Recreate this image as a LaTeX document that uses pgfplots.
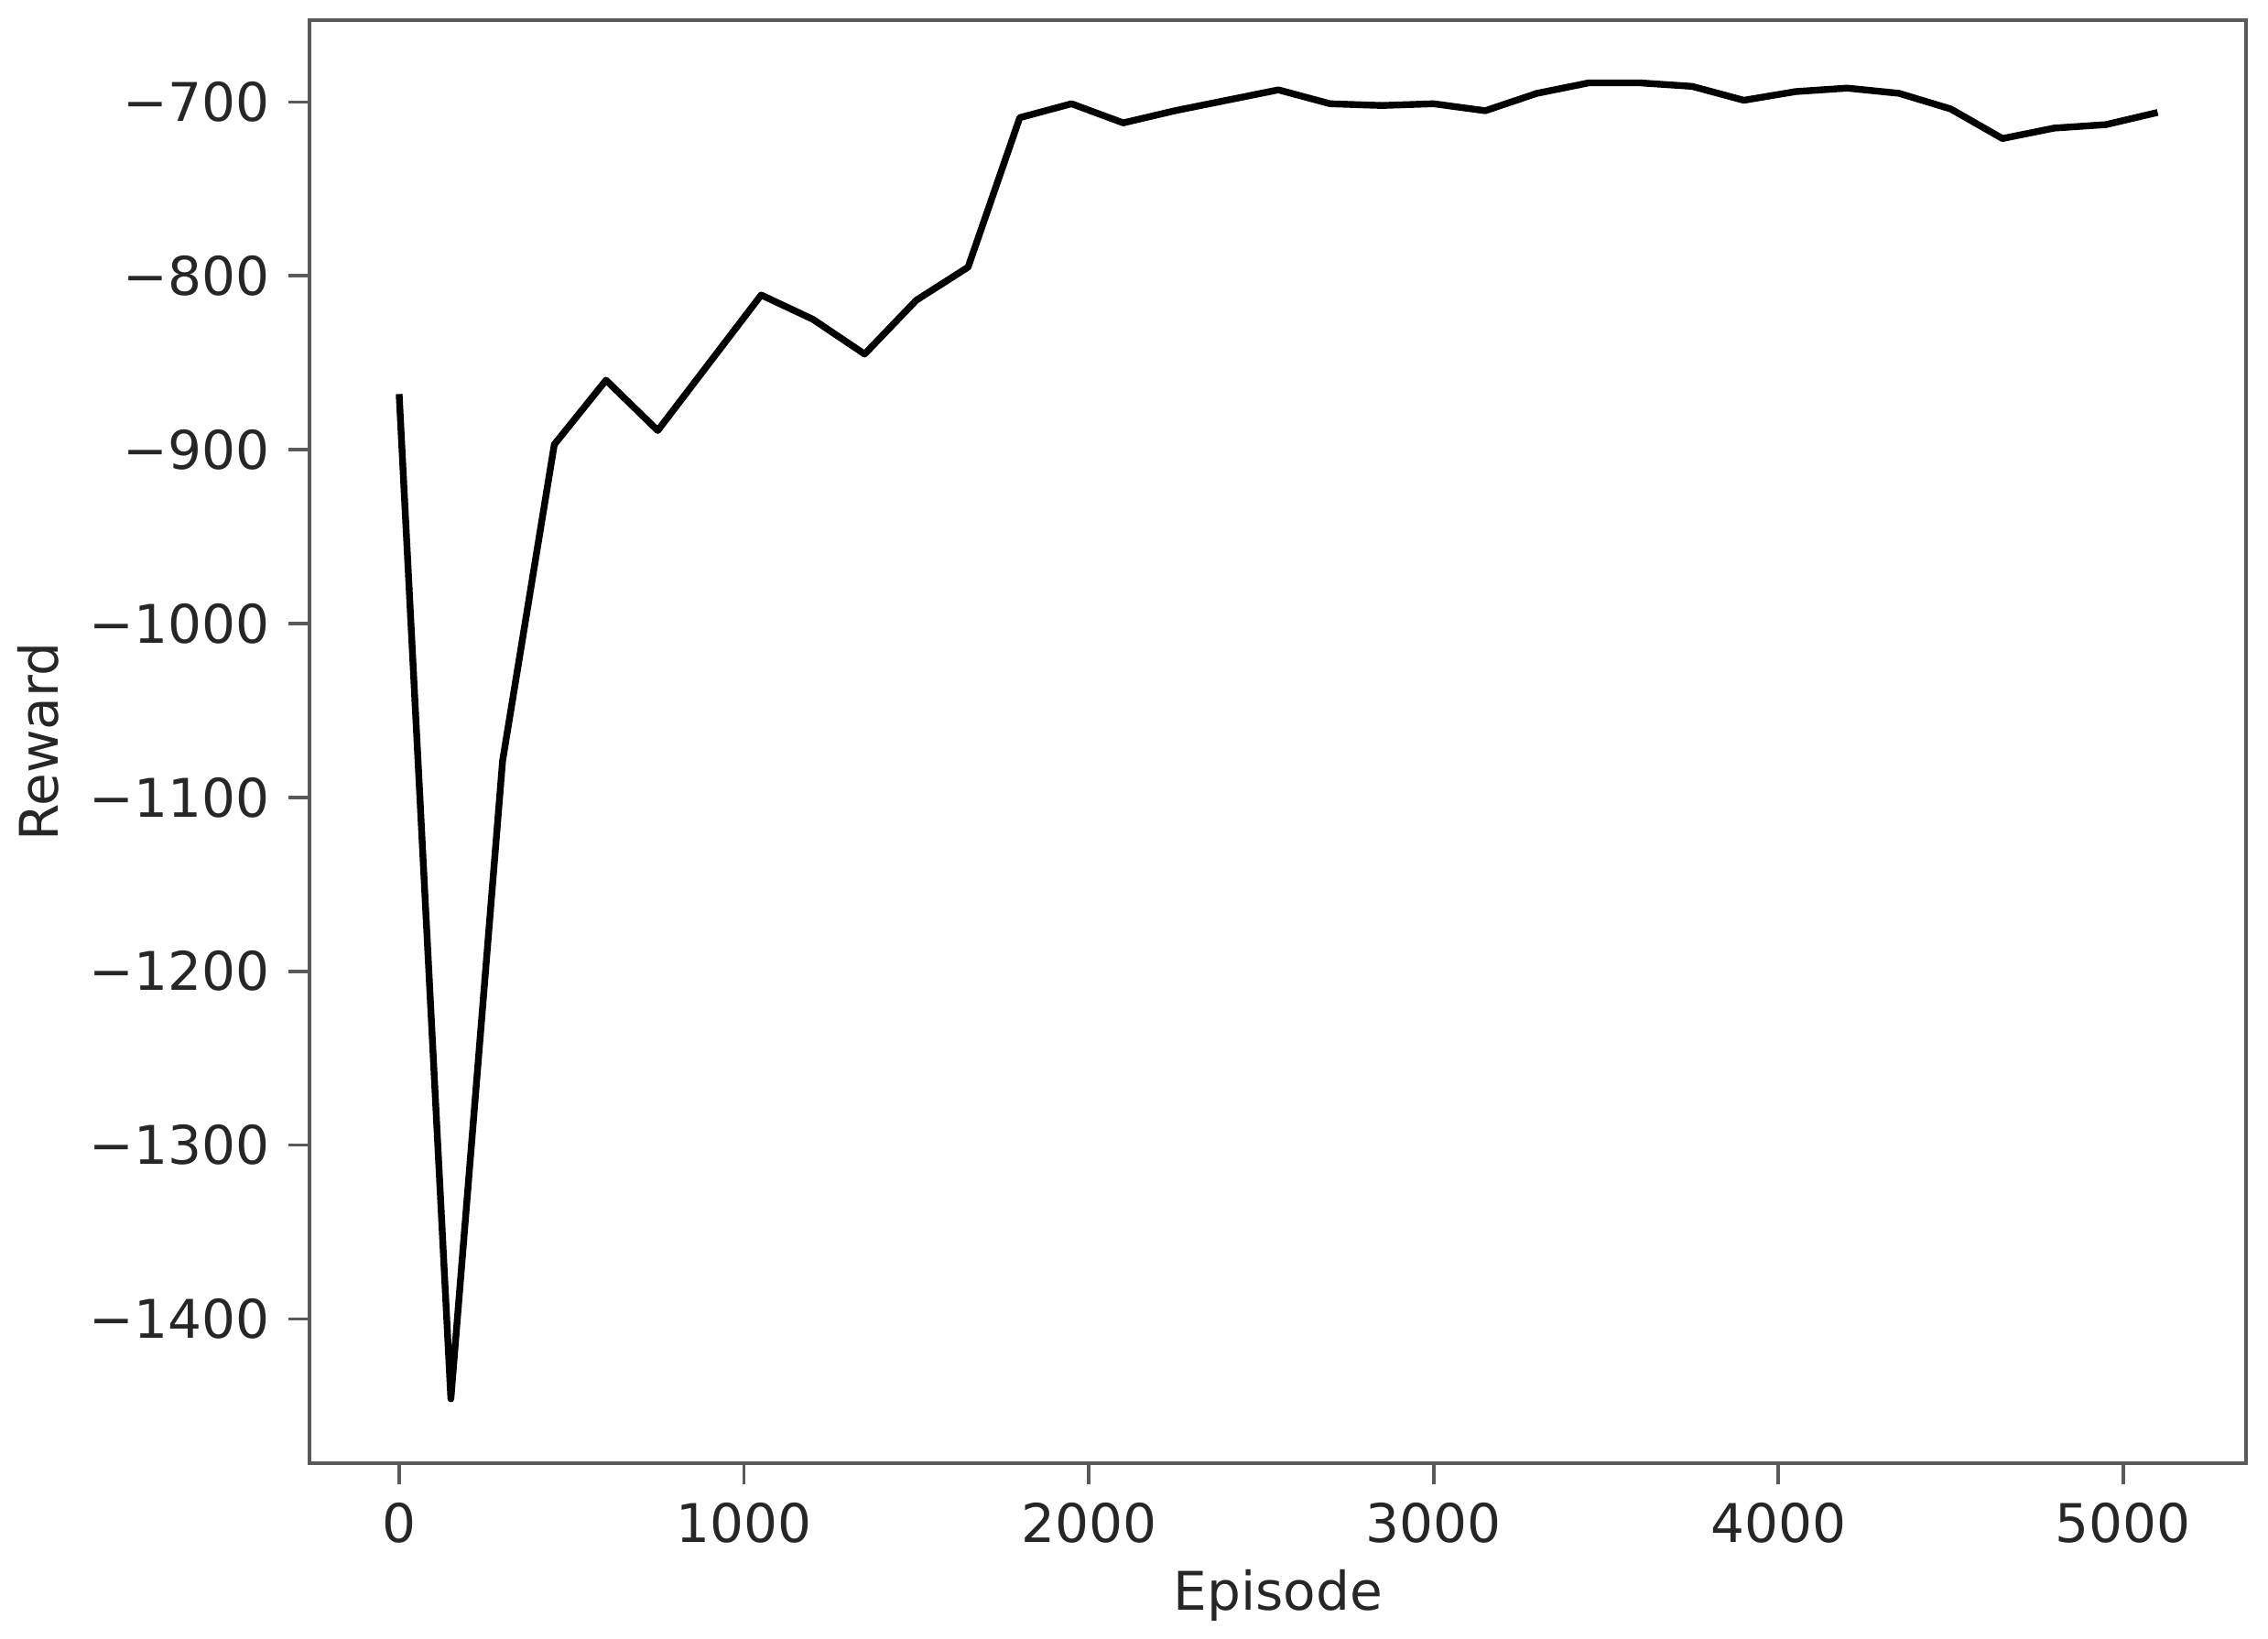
\documentclass[border=0pt]{standalone}
\usepackage{fontspec}
\setmainfont{DejaVu Sans}
\usepackage{pgfplots}
\pgfplotsset{compat=1.18}
\definecolor{cadre}{RGB}{90,90,90}

\pgfplotstableread{
ep rew
0 -868
150 -1446
300 -1079
450 -897
600 -860
750 -889
900 -850
1050 -811
1200 -825
1350 -845
1500 -814
1650 -795
1800 -709
1950 -701
2100 -712
2250 -705
2400 -699
2550 -693
2700 -701
2850 -702
3000 -701
3150 -705
3300 -695
3450 -689
3600 -689
3750 -691
3900 -699
4050 -694
4200 -692
4350 -695
4500 -704
4650 -721
4800 -715
4950 -713
5100 -706
}\rewards

\begin{document}
\fontsize{11}{13}\selectfont
\begin{tikzpicture}
\begin{axis}[
  scale only axis, width=400pt, height=298pt,
  xmin=-260, xmax=5357, ymin=-1483, ymax=-653,
  axis line style={cadre, line width=0.8pt},
  tick style={cadre, line width=0.7pt},
  tick align=outside, major tick length=4.4pt,
  xtick pos=bottom, ytick pos=left,
  xtick={0,1000,2000,3000,4000,5000},
  xticklabels={0,1000,2000,3000,4000,5000},
  ytick={-1400,-1300,-1200,-1100,-1000,-900,-800,-700},
  yticklabels={−1400,−1300,−1200,−1100,−1000,−900,−800,−700},
  tick label style={font=\fontsize{11}{13}\selectfont, text=black!85},
  xlabel={Episode}, ylabel={Reward},
  label style={font=\fontsize{11}{13}\selectfont, text=black!85},
  xlabel style={at={(axis description cs:0.5,-0.0916)}, anchor=center},
  ylabel style={at={(axis description cs:-0.14,0.5)}, anchor=center, rotate=0},
]
\addplot[black, line width=1.4pt, line join=round, mark=none] table[x=ep, y=rew] {\rewards};
\end{axis}
\path ([xshift=-63.6pt,yshift=-36pt]current axis.south west) rectangle ([xshift=4.5pt,yshift=4.2pt]current axis.north east);
\end{tikzpicture}
\end{document}
